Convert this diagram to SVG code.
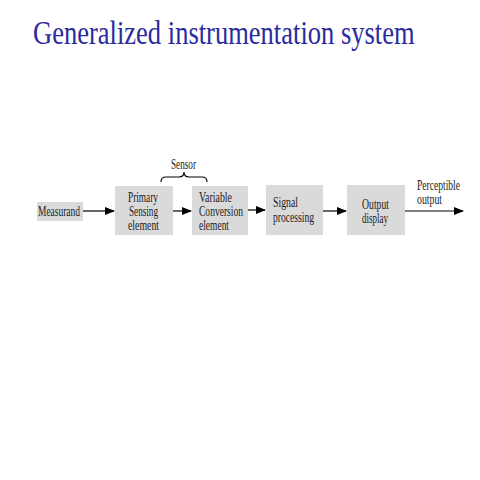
<svg xmlns="http://www.w3.org/2000/svg" width="480" height="480" viewBox="0 0 480 480">
<style>
.box{fill:#dadada}
.t{font-family:"Liberation Serif","Times New Roman",serif;font-size:14px;fill:#1a1a1a}
.title{font-family:"Liberation Serif","Times New Roman",serif;font-size:33px;fill:#2b2b9e}
.ln{stroke:#000;stroke-width:1.2;fill:none}
</style>
<defs>
<marker id="ah" markerWidth="10" markerHeight="8" refX="9" refY="4" orient="auto" markerUnits="userSpaceOnUse">
<path d="M0,0 L10,4 L0,8 Z" fill="#000"/>
</marker>
</defs>
<rect width="480" height="480" fill="#fff"/>
<text class="title" transform="translate(33,44) scale(0.804,1)" x="0" y="0">Generalized instrumentation system</text>

<g id="measurand">
<rect class="box" x="37" y="202" width="46" height="19"/>
<text class="t" x="38" y="216" textLength="42" lengthAdjust="spacingAndGlyphs">Measurand</text>
</g>
<g id="primary">
<rect class="box" x="115" y="186" width="58" height="49"/>
<text class="t" x="128" y="202" textLength="30" lengthAdjust="spacingAndGlyphs">Primary</text>
<text class="t" x="129" y="216" textLength="29" lengthAdjust="spacingAndGlyphs">Sensing</text>
<text class="t" x="128" y="230" textLength="31" lengthAdjust="spacingAndGlyphs">element</text>
</g>
<g id="variable">
<rect class="box" x="192" y="186" width="56" height="49"/>
<text class="t" x="199" y="202" textLength="33" lengthAdjust="spacingAndGlyphs">Variable</text>
<text class="t" x="199" y="216" textLength="44" lengthAdjust="spacingAndGlyphs">Conversion</text>
<text class="t" x="199" y="230" textLength="30" lengthAdjust="spacingAndGlyphs">element</text>
</g>
<g id="signal">
<rect class="box" x="266" y="185" width="57" height="50"/>
<text class="t" x="273" y="207" textLength="25" lengthAdjust="spacingAndGlyphs">Signal</text>
<text class="t" x="273" y="222" textLength="41" lengthAdjust="spacingAndGlyphs">processing</text>
</g>
<g id="output">
<rect class="box" x="347" y="185" width="58" height="50"/>
<text class="t" x="362" y="209" textLength="27" lengthAdjust="spacingAndGlyphs">Output</text>
<text class="t" x="362" y="223" textLength="26" lengthAdjust="spacingAndGlyphs">display</text>
</g>
<g id="sensor">
<path class="ln" d="M161,182 Q161,177 166,177 L179,177 Q184,177 184,172 Q184,177 189,177 L202,177 Q207,177 207,182"/>
<text class="t" x="171" y="169" textLength="25" lengthAdjust="spacingAndGlyphs">Sensor</text>
</g>
<g id="perceptible">
<text class="t" x="417" y="190" textLength="43" lengthAdjust="spacingAndGlyphs">Perceptible</text>
<text class="t" x="417" y="204" textLength="25" lengthAdjust="spacingAndGlyphs">output</text>
</g>
<g id="connectors">
<line class="ln" x1="83" y1="211" x2="114" y2="211" marker-end="url(#ah)"/>
<line class="ln" x1="173" y1="211" x2="191" y2="211" marker-end="url(#ah)"/>
<line class="ln" x1="248" y1="210" x2="265" y2="210" marker-end="url(#ah)"/>
<line class="ln" x1="323" y1="211" x2="346" y2="211" marker-end="url(#ah)"/>
<line class="ln" x1="405" y1="211" x2="463" y2="211" marker-end="url(#ah)"/>
</g>
</svg>
